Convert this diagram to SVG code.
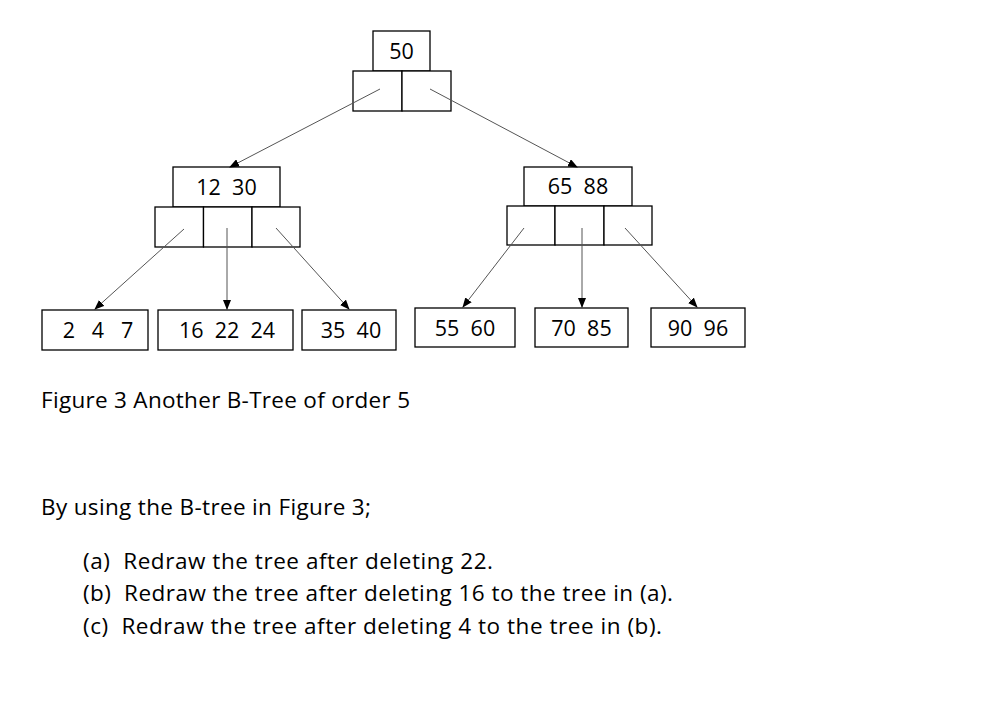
<svg xmlns="http://www.w3.org/2000/svg" width="997" height="721" viewBox="0 0 997 721">
<style>
rect{fill:#fff;stroke:#000;stroke-width:1.3}
text{white-space:pre}
.t{font-family:"Open Sans","Liberation Sans",sans-serif;font-size:21.5px;fill:#000;text-anchor:middle}
.p{font-family:"Open Sans","Liberation Sans",sans-serif;font-size:22.5px;fill:#000}
.c line{stroke:#555;stroke-width:1;marker-end:url(#a)}
</style>
<defs><marker id="a" markerWidth="10" markerHeight="8" refX="9" refY="4" orient="auto" markerUnits="userSpaceOnUse"><path d="M0,0L10,4L0,8z" fill="#000"/></marker></defs>
<rect x="0" y="0" width="997" height="721" style="fill:#fff;stroke:none"/>
<g id="root"><rect x="373" y="31" width="57" height="40"/><text class="t" x="401.5" y="59">50</text>
<rect x="353" y="71" width="49" height="40"/><rect x="402" y="71" width="49" height="40"/></g>
<g id="n1230"><rect x="173" y="167" width="107" height="40"/><text class="t" x="226.5" y="195">12  30</text>
<rect x="155" y="207" width="48.5" height="40"/><rect x="203.5" y="207" width="48.5" height="40"/><rect x="252" y="207" width="48" height="40"/></g>
<g id="n6588"><rect x="524" y="167" width="108" height="39"/><text class="t" x="578" y="194">65  88</text>
<rect x="507" y="206" width="48" height="39"/><rect x="555" y="206" width="49" height="39"/><rect x="604" y="206" width="48" height="39"/></g>
<g id="l1"><rect x="42" y="310" width="106" height="40"/><text class="t" x="98" y="338">2   4   7</text></g>
<g id="l2"><rect x="158" y="310" width="135" height="40"/><text class="t" x="227" y="338">16  22  24</text></g>
<g id="l3"><rect x="302" y="310" width="94" height="40"/><text class="t" x="351" y="338">35  40</text></g>
<g id="l4"><rect x="415" y="308" width="100" height="39"/><text class="t" x="465" y="336">55  60</text></g>
<g id="l5"><rect x="535" y="308" width="93" height="39"/><text class="t" x="581.5" y="336">70  85</text></g>
<g id="l6"><rect x="651" y="308" width="94" height="39"/><text class="t" x="698" y="336">90  96</text></g>
<g class="c">
<line x1="380" y1="89" x2="230" y2="167"/><line x1="430" y1="89" x2="577" y2="167"/>
<line x1="184" y1="229" x2="95" y2="309"/><line x1="227" y1="228" x2="227" y2="309"/><line x1="276" y1="228" x2="349" y2="309"/>
<line x1="524" y1="228" x2="463" y2="307"/><line x1="582" y1="228" x2="582" y2="307"/><line x1="625" y1="228" x2="697" y2="307"/>
</g>
<text class="p" x="41" y="408" textLength="369">Figure 3 Another B-Tree of order 5</text>
<text class="p" x="41" y="515" textLength="330">By using the B-tree in Figure 3;</text>
<text class="p" x="83" y="569" textLength="410">(a)  Redraw the tree after deleting 22.</text>
<text class="p" x="83" y="601" textLength="590">(b)  Redraw the tree after deleting 16 to the tree in (a).</text>
<text class="p" x="83" y="634" textLength="579">(c)  Redraw the tree after deleting 4 to the tree in (b).</text>
</svg>
